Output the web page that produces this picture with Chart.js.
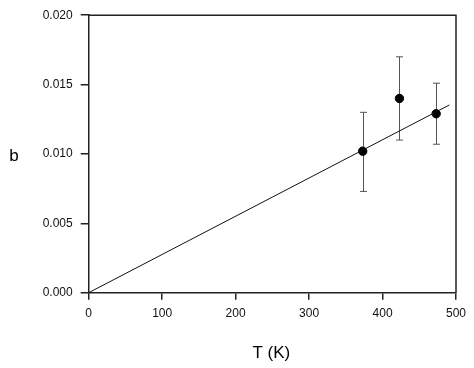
<!DOCTYPE html>
<html>
<head>
<meta charset="utf-8">
<script src="https://cdn.jsdelivr.net/npm/chart.js@4"></script>
<style>
  html, body { margin: 0; padding: 0; background: #fff; }
  #wrap { width: 474px; height: 368px; }
</style>
</head>
<body>
<div id="wrap"><canvas id="chart" width="474" height="368"></canvas></div>
<script>
// ----- data -----
const temps = [373, 423, 473];            // T (K)
const bValues = [0.0102, 0.0140, 0.0129];  // b
const errLow = [0.0073, 0.0110, 0.0107];
const errHigh = [0.0130, 0.0170, 0.0151];
const fitT = [0, 491];
const fitB = [0, 0.01353];

const xTicks = [0, 100, 200, 300, 400, 500];
const yTicks = [0, 0.005, 0.010, 0.015, 0.020];

const FONT = "'Liberation Sans', Arial, Helvetica, sans-serif";

// ----- frame, error bars and axis titles -----
const extras = {
  id: "extras",
  beforeDatasetsDraw(chart) {
    const { ctx, scales: { x, y } } = chart;
    ctx.save();
    ctx.strokeStyle = "#555";
    ctx.lineWidth = 1;
    temps.forEach((t, i) => {
      const px = Math.round(x.getPixelForValue(t)) + 0.5;
      const top = y.getPixelForValue(errHigh[i]);
      const bot = y.getPixelForValue(errLow[i]);
      ctx.beginPath();
      ctx.moveTo(px, top); ctx.lineTo(px, bot);
      ctx.moveTo(px - 3.5, top); ctx.lineTo(px + 3.5, top);
      ctx.moveTo(px - 3.5, bot); ctx.lineTo(px + 3.5, bot);
      ctx.stroke();
    });
    ctx.restore();
  },
  afterDraw(chart) {
    const { ctx, chartArea: a } = chart;
    ctx.save();
    ctx.strokeStyle = "#222";
    ctx.lineWidth = 1.5;
    ctx.beginPath();
    ctx.moveTo(a.left, a.top); ctx.lineTo(a.right, a.top); ctx.lineTo(a.right, a.bottom);
    ctx.stroke();
    ctx.fillStyle = "#000";
    ctx.font = "17px " + FONT;
    ctx.textAlign = "center";
    ctx.textBaseline = "middle";
    ctx.fillText("b", 14, (a.top + a.bottom) / 2 + 2);
    ctx.fillText("T (K)", (a.left + a.right) / 2 - 1, 353);
    ctx.restore();
  }
};

new Chart(document.getElementById("chart"), {
  type: "scatter",
  data: {
    datasets: [
      {
        label: "fit",
        type: "line",
        data: fitT.map((t, i) => ({ x: t, y: fitB[i] })),
        borderColor: "#111",
        borderWidth: 1,
        pointRadius: 0,
        fill: false
      },
      {
        label: "b",
        data: temps.map((t, i) => ({ x: t, y: bValues[i] })),
        backgroundColor: "#000",
        borderColor: "#000",
        pointRadius: 4.2
      }
    ]
  },
  options: {
    responsive: false,
    animation: false,
    layout: { padding: { left: 0, right: 18, top: 14.5, bottom: 0 } },
    plugins: { legend: { display: false }, tooltip: { enabled: false } },
    scales: {
      x: {
        type: "linear",
        min: 0, max: 500,
        afterBuildTicks: s => { s.ticks = xTicks.map(v => ({ value: v })); },
        afterFit: s => { s.height = 75.3; },
        grid: { drawOnChartArea: false, color: "#222", tickLength: 7, lineWidth: 1.5 },
        border: { color: "#222", width: 1.5 },
        ticks: { color: "#111", font: { family: FONT, size: 12 }, padding: 7 }
      },
      y: {
        type: "linear",
        min: 0, max: 0.02,
        afterBuildTicks: s => { s.ticks = yTicks.map(v => ({ value: v })); },
        afterFit: s => { s.width = 88.7; },
        grid: { drawOnChartArea: false, color: "#222", tickLength: 8, lineWidth: 1.5 },
        border: { color: "#222", width: 1.5 },
        ticks: { color: "#111", font: { family: FONT, size: 12 }, padding: 8,
                 callback: v => v.toFixed(3) }
      }
    }
  },
  plugins: [extras]
});
</script>
</body>
</html>
